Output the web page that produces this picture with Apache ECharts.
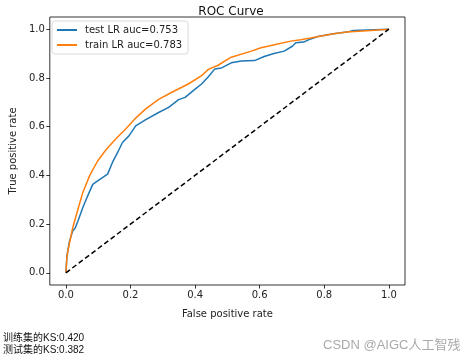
<!DOCTYPE html>
<html><head><meta charset="utf-8">
<script src="https://cdn.jsdelivr.net/npm/echarts@6/dist/echarts.min.js"></script>
<style>html,body{margin:0;padding:0;background:#fff}#c{width:474px;height:363px}</style>
</head><body><div id="c"></div>
<script>
const tickValues = [0, 0.2, 0.4, 0.6, 0.8, 1.0];
const trainFPR = [0,0.003,0.009,0.021,0.037,0.052,0.073,0.098,0.124,0.154,0.185,0.216,0.246,0.287,0.328,0.379,0.420,0.441,0.471,0.512,0.574,0.604,0.625,0.666,0.696,0.727,0.758,0.829,0.870,0.932,1];
const trainTPR = [0,0.068,0.109,0.185,0.260,0.329,0.398,0.459,0.505,0.549,0.590,0.635,0.672,0.712,0.741,0.775,0.809,0.835,0.852,0.885,0.910,0.924,0.930,0.942,0.951,0.957,0.964,0.981,0.988,0.994,1];
const testFPR = [0,0.003,0.011,0.021,0.029,0.037,0.052,0.067,0.083,0.098,0.113,0.129,0.144,0.160,0.175,0.195,0.216,0.246,0.287,0.318,0.349,0.369,0.400,0.420,0.441,0.461,0.482,0.512,0.543,0.584,0.614,0.644,0.676,0.701,0.712,0.736,0.758,0.780,0.829,0.870,0.890,0.932,1];
const testTPR = [0,0.068,0.130,0.172,0.185,0.212,0.267,0.315,0.363,0.377,0.391,0.405,0.453,0.494,0.535,0.562,0.603,0.628,0.658,0.679,0.711,0.720,0.754,0.775,0.805,0.837,0.841,0.862,0.869,0.871,0.888,0.900,0.910,0.930,0.944,0.947,0.960,0.970,0.981,0.988,0.995,0.997,1];
const diagX = [0, 1];
const diagY = [0, 1];
const legendNames = ['test LR auc=0.753', 'train LR auc=0.783'];
const ksTexts = ['训练集的KS:0.420', '测试集的KS:0.382'];
const watermark = 'CSDN @AIGC人工智残';

const zip = (a, b) => a.map((v, i) => [v, b[i]]);
const font = 'DejaVu Sans';
const chart = echarts.init(document.getElementById('c'), null, {renderer: 'canvas'});
const axisCommon = {
  type: 'value', min: -0.05, max: 1.05,
  axisLine: {show: false, onZero: false},
  splitLine: {show: false},
  axisTick: {show: true, length: 3.5, lineStyle: {color: '#000', width: 0.8}, customValues: tickValues},
  axisLabel: {customValues: tickValues, formatter: v => v.toFixed(1), color: '#222', fontSize: 10, fontFamily: font, margin: 5},
  nameLocation: 'middle',
  nameTextStyle: {color: '#222', fontSize: 10, fontFamily: font}
};
chart.setOption({
  animation: false,
  title: {text: 'ROC Curve', left: 226, textAlign: 'center', top: 1, textStyle: {fontSize: 12, fontWeight: 'normal', color: '#111', fontFamily: font}},
  grid: {left: 47, right: 69, top: 17, bottom: 78, show: true, borderColor: '#000', borderWidth: 0.8, backgroundColor: 'transparent'},
  legend: {
    orient: 'vertical', left: 52, top: 21, itemGap: 5, itemWidth: 20, itemHeight: 2,
    backgroundColor: 'rgba(255,255,255,0.8)', borderColor: '#d0d0d0', borderWidth: 0.8, borderRadius: 3,
    padding: [4, 6, 4, 5],
    textStyle: {fontSize: 10, fontFamily: font, color: '#222', padding: [0, 0, 0, 3]},
    data: [{name: legendNames[0], icon: 'rect'}, {name: legendNames[1], icon: 'rect'}]
  },
  xAxis: Object.assign({}, axisCommon, {name: 'False positive rate', nameGap: 24}),
  yAxis: Object.assign({}, axisCommon, {name: 'True positive rate', nameGap: 31}),
  series: [
    {name: legendNames[0], type: 'line', data: zip(testFPR, testTPR), showSymbol: false, symbol: 'none', lineStyle: {color: '#1f77b4', width: 1.5}, itemStyle: {color: '#1f77b4'}},
    {name: legendNames[1], type: 'line', data: zip(trainFPR, trainTPR), showSymbol: false, symbol: 'none', lineStyle: {color: '#ff7f0e', width: 1.5}, itemStyle: {color: '#ff7f0e'}},
    {name: 'diag', type: 'line', data: zip(diagX, diagY), showSymbol: false, symbol: 'none', lineStyle: {color: '#000', width: 1.5, type: [5, 3]}}
  ],
  graphic: [
    {type: 'text', left: 3, top: 332, style: {text: ksTexts[0] + '\n' + ksTexts[1], fontSize: 10, lineHeight: 12, fontFamily: 'Liberation Sans, Noto Sans CJK SC', fill: '#111'}},
    {type: 'text', left: 323, top: 339, style: {text: watermark, fontSize: 13, fontFamily: 'Liberation Sans, Noto Sans CJK SC', fill: '#aaa'}}
  ]
});
</script></body></html>
